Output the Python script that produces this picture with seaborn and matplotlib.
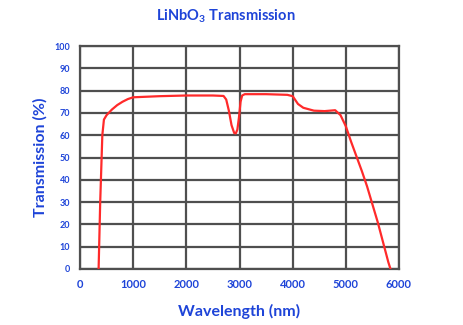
import matplotlib
matplotlib.use("Agg")
import matplotlib.pyplot as plt
import seaborn as sns
import pandas as pd

wavelength = [350, 380, 420, 450, 500, 600, 700, 800, 900, 1000, 1500, 2000, 2500, 2700,
              2750, 2800, 2850, 2900, 2930, 2960, 2990, 3020, 3050, 3100, 3500, 3900, 4000,
              4100, 4200, 4400, 4600, 4800, 4900, 5000, 5100, 5200, 5300, 5400, 5500, 5600,
              5700, 5800, 5840]
transmission = [0, 30, 60, 67, 69, 71.5, 73.5, 75, 76.2, 77, 77.5, 77.8, 77.8, 77.6,
                76, 71, 64.5, 61, 60.8, 62.5, 68, 75, 77.8, 78.4, 78.4, 78.1, 77.5,
                74, 72.3, 71, 70.8, 71.2, 69, 64, 57, 50.5, 44, 37, 29, 21,
                12, 3, 0]
x_ticks = [0, 1000, 2000, 3000, 4000, 5000, 6000]
y_ticks = [0, 10, 20, 30, 40, 50, 60, 70, 80, 90, 100]

df = pd.DataFrame({"Wavelength": wavelength, "Transmission": transmission})

sns.set_style("white")
plt.rcParams['font.family'] = ['Lato', 'DejaVu Sans']
plt.rcParams['mathtext.fontset'] = 'custom'
plt.rcParams['mathtext.rm'] = 'Lato'
plt.rcParams['mathtext.bf'] = 'Lato:bold'
blue = "#1E44D8"
gridc = "#4F4F4F"

fig = plt.figure(figsize=(4.63, 3.25), dpi=100)
ax = fig.add_axes([80/463, 1-269/325, (399-80)/463, (269-46)/325])
sns.lineplot(data=df, x="Wavelength", y="Transmission", sort=False, estimator=None,
             color="#FF2A2A", linewidth=1.6, ax=ax, zorder=3)
ax.set_xlim(0, 6000)
ax.set_ylim(0, 100)
ax.set_xticks(x_ticks)
ax.set_yticks(y_ticks)
ax.set_xticklabels([str(v) for v in x_ticks], color=blue, fontsize=8, fontweight="bold")
ax.set_yticklabels([str(v) for v in y_ticks], color=blue, fontsize=6.5, fontweight="bold")
ax.tick_params(axis="both", length=0)
ax.tick_params(axis="x", pad=7)
ax.tick_params(axis="y", pad=7)
ax.grid(True, color=gridc, linewidth=1.6)
ax.set_axisbelow(True)
for s in ax.spines.values():
    s.set_color(gridc)
    s.set_linewidth(1.6)
ax.set_xlabel("Wavelength (nm)", color=blue, fontsize=11.5, fontweight="bold", labelpad=10)
ax.set_ylabel("Transmission (%)", color=blue, fontsize=11.5, fontweight="bold", labelpad=5)
fig.text(226/463, 1-16/325, r"LiNbO$_\mathbf{3}$ Transmission", color=blue, fontsize=10.5,
         fontweight="bold", ha="center", va="center")
fig.savefig("out.png", dpi=100)
